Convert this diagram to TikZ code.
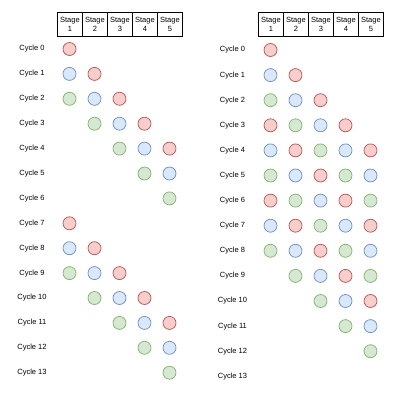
\documentclass[tikz,border=0pt]{standalone}
\usepackage{fontspec}
\setmainfont{Liberation Sans}
\usetikzlibrary{calc}

\definecolor{redfill}{HTML}{F8CECC}
\definecolor{redline}{HTML}{B85450}
\definecolor{bluefill}{HTML}{DAE8FC}
\definecolor{blueline}{HTML}{6C8EBF}
\definecolor{greenfill}{HTML}{D5E8D4}
\definecolor{greenline}{HTML}{82B366}

\begin{document}
\begin{tikzpicture}[
  x=1pt, y=-1pt,
  font=\fontsize{7.5}{8.7}\selectfont,
  cell/.style={draw, line width=0.8pt, minimum width=25pt, minimum height=24.5pt, inner sep=0pt, align=center},
  lbl/.style={inner sep=0pt},
  dot/.style={circle, line width=0.7pt, minimum size=13pt, inner sep=0pt},
  dot0/.style={dot, draw=redline, fill=redfill},
  dot1/.style={dot, draw=blueline, fill=bluefill},
  dot2/.style={dot, draw=greenline, fill=greenfill}
]
\useasboundingbox (0,0) rectangle (420,404);

% 尺寸与参数
\def\cellw{25}
\def\lx{57}     % 左表起点
\def\ly{49}     % 左侧 Cycle 0 行
\def\lrow{24.9}
\def\llab{32}
\def\rx{258}    % 右表起点
\def\ry{50}
\def\rrow{25.1}
\def\rlab{232.5}

% 表头 Stage 1..5
\foreach \j in {1,...,5} {
  \node[cell, anchor=north west] (L-st\j) at ({\lx+(\j-1)*\cellw}, 12) {Stage\\\j};
  \node[cell, anchor=north west] (R-st\j) at ({\rx+(\j-1)*\cellw}, 12) {Stage\\\j};
}

% 左侧:两批各三条,批间空开
\foreach \c in {0,...,13} {
  \node[lbl] (L-cyc\c) at (\llab, {\ly+\c*\lrow}) {Cycle \c};
  \foreach \s in {0,...,4} {
    \pgfmathtruncatemacro\i{\c-\s}
    \pgfmathtruncatemacro\k{(\i>=0 && \i<=2) ? \i : ((\i>=7 && \i<=9) ? \i-7 : -1)}
    \ifnum\k>-1
      \node[dot\k] (L-\c-\s) at ({\lx+(\s+0.5)*\cellw}, {\ly+\c*\lrow}) {};
    \fi
  }
}

% 右侧:九条连续流水
\foreach \c in {0,...,13} {
  \node[lbl] (R-cyc\c) at (\rlab, {\ry+\c*\rrow}) {Cycle \c};
  \foreach \s in {0,...,4} {
    \pgfmathtruncatemacro\i{\c-\s}
    \pgfmathtruncatemacro\k{(\i>=0 && \i<=8) ? mod(\i,3) : -1}
    \ifnum\k>-1
      \node[dot\k] (R-\c-\s) at ({\rx+(\s+0.5)*\cellw}, {\ry+\c*\rrow}) {};
    \fi
  }
}

\end{tikzpicture}
\end{document}
